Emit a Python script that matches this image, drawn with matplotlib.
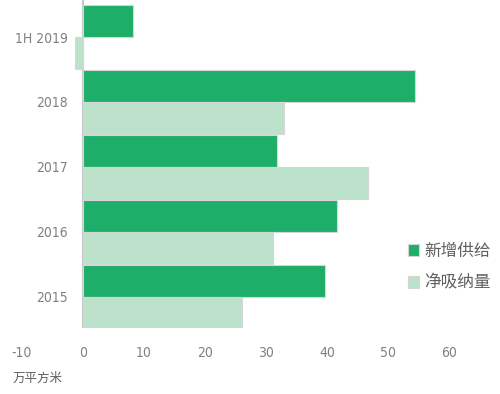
import matplotlib.pyplot as plt
import numpy as np

plt.rcParams['font.family'] = ['DejaVu Sans', 'Noto Sans CJK SC']
plt.rcParams['font.stretch'] = 'condensed'

categories = ['2015', '2016', '2017', '2018', '1H 2019']
new_supply = [39.7, 41.7, 31.8, 54.4, 8.2]
net_absorption = [26.1, 31.2, 46.7, 32.9, -1.3]
xticks = [-10, 0, 10, 20, 30, 40, 50, 60]

dark = '#1dae69'
light = '#bde2cc'
grey = '#808080'

fig = plt.figure(figsize=(5, 3.94), dpi=100)
ax = fig.add_axes([0.044, 0.1675, 0.854, 0.8325])

y = np.arange(len(categories))
h = 0.49
ax.barh(y + h / 2, new_supply, height=h, color=dark, edgecolor='#d6d6d6', linewidth=0.8, label='新增供给')
ax.barh(y - h / 2, net_absorption, height=h, color=light, edgecolor='#d6d6d6', linewidth=0.8, label='净吸纳量')
ax.axvline(0, color='#c8c8c8', linewidth=1.5, zorder=0)

ax.set_xlim(-10, 60)
ax.set_ylim(-0.48, 4.57)
ax.set_xticks(xticks)
ax.set_xticklabels([str(v) for v in xticks])
ax.set_yticks(y)
ax.set_yticklabels(categories)
ax.tick_params(length=0, labelsize=10, colors=grey)
ax.tick_params(axis='x', pad=13)
ax.tick_params(axis='y', pad=-33)
for s in ax.spines.values():
    s.set_visible(False)

fig.text(0.026, 0.030, '万平方米', fontsize=9, color='#606060', family=['Noto Sans CJK SC', 'DejaVu Sans'])

leg = fig.legend(loc='upper left', bbox_to_anchor=(0.785, 0.422), frameon=False,
                 handlelength=0.7, handleheight=0.7, handletextpad=0.3, labelspacing=0.9,
                 prop={'family': ['Noto Sans CJK SC', 'DejaVu Sans'], 'size': 12})
for t in leg.get_texts():
    t.set_color('#606060')

fig.savefig('out.png', dpi=100)
